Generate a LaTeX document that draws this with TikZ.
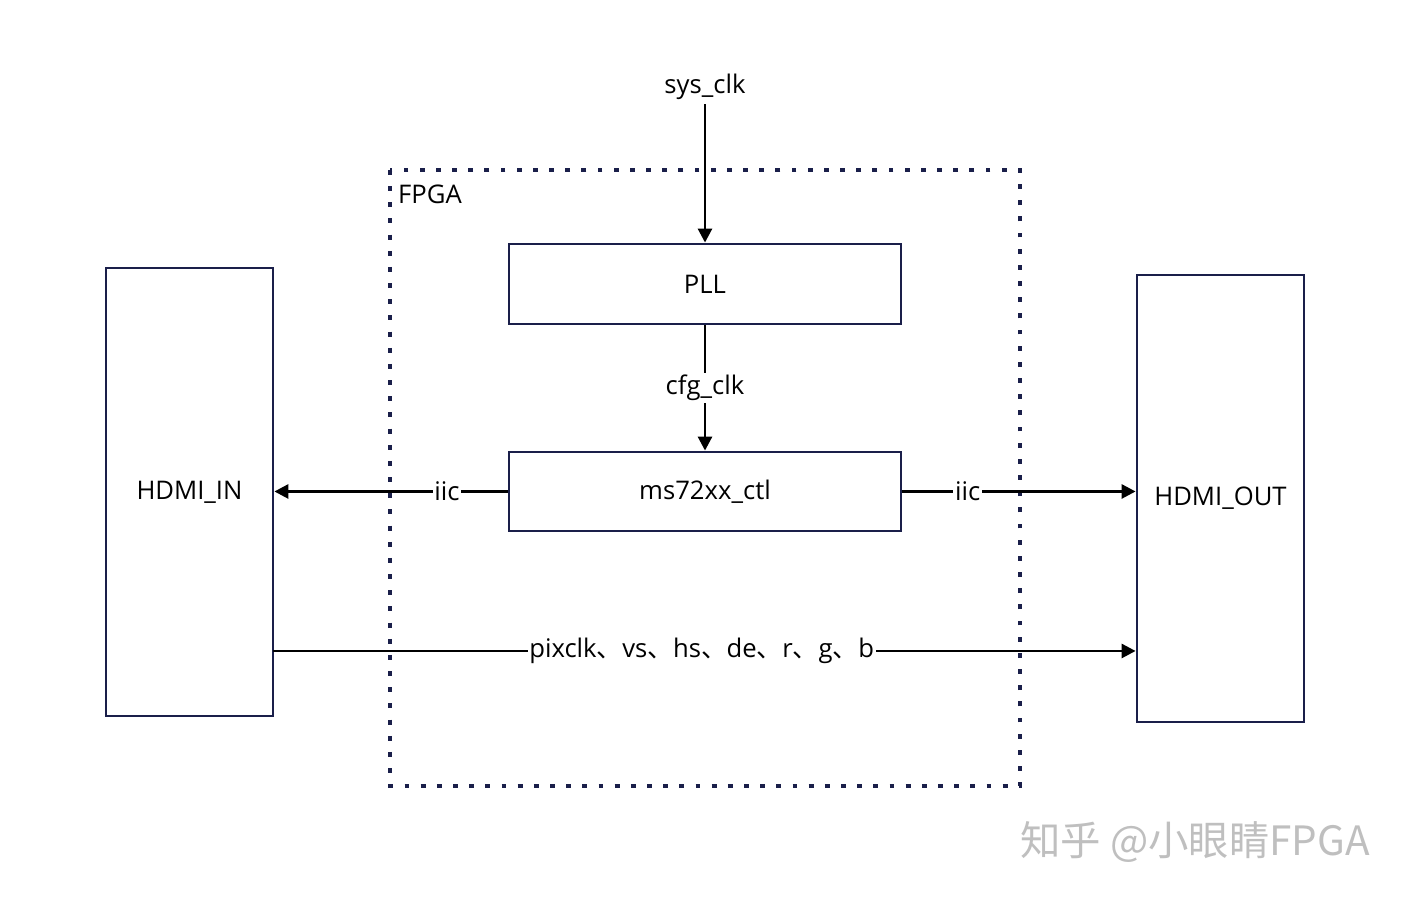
\documentclass[tikz,border=0pt]{standalone}
\usepackage{fontspec}
\setmainfont{Open Sans}
\newfontfamily\cjk{Noto Sans CJK SC}
\usetikzlibrary{arrows.meta,positioning}
\definecolor{boxblue}{HTML}{1A1F4A}
\newcommand{\dun}{{\cjk 、}}

\begin{document}
\begin{tikzpicture}[font=\fontsize{7.3}{8}\selectfont,
  blk/.style={draw=boxblue, line width=0.8pt, inner sep=0pt},
  sig/.style={line width=0.8pt, -{Triangle[length=4pt,width=4pt]}},
  lbl/.style={fill=white, inner sep=0.5pt}]
  \useasboundingbox (0,0) rectangle (14.14,8.99);
  % FPGA frame
  \draw[line width=0.9pt, dash pattern=on 1.4pt off 3.2pt, draw=boxblue] (3.90,7.29) rectangle (10.20,1.13);
  \node[anchor=north west, inner sep=1pt] (fpga) at (3.94,7.18) {FPGA};
  % blocks
  \node[blk, minimum width=1.67cm, minimum height=4.48cm] (hin) at (1.895,4.07) {HDMI\_IN};
  \node[blk, minimum width=1.67cm, minimum height=4.47cm] (hout) at (12.205,4.005) {HDMI\_OUT};
  \node[blk, minimum width=3.92cm, minimum height=0.80cm] (pll) at (7.05,6.15) {PLL};
  \node[blk, minimum width=3.92cm, minimum height=0.79cm] (ctl) at (7.05,4.075) {ms72xx\_ctl};
  % signals
  \node[inner sep=1pt] (sys) at (7.05,8.12) {sys\_clk};
  \draw[sig] (sys) -- (pll);
  \draw[sig] (pll) -- node[lbl] {cfg\_clk} (ctl);
  \draw[sig] (ctl.west) -- node[lbl, pos=0.26] {iic} (ctl.west -| hin.east);
  \draw[sig] (ctl.east) -- node[lbl, pos=0.28] {iic} (ctl.east -| hout.west);
  \coordinate (pix) at (2.73,2.48);
  \draw[sig] (pix) -- node[lbl, pos=0.497] {pixclk\dun vs\dun hs\dun de\dun r\dun g\dun b} (pix -| hout.west);
  % watermark
  \node[text=black!25, font=\cjk\fontsize{11.5}{13}\selectfont] (mark) at (11.95,0.57) {知乎 @小眼睛FPGA};
\end{tikzpicture}
\end{document}
